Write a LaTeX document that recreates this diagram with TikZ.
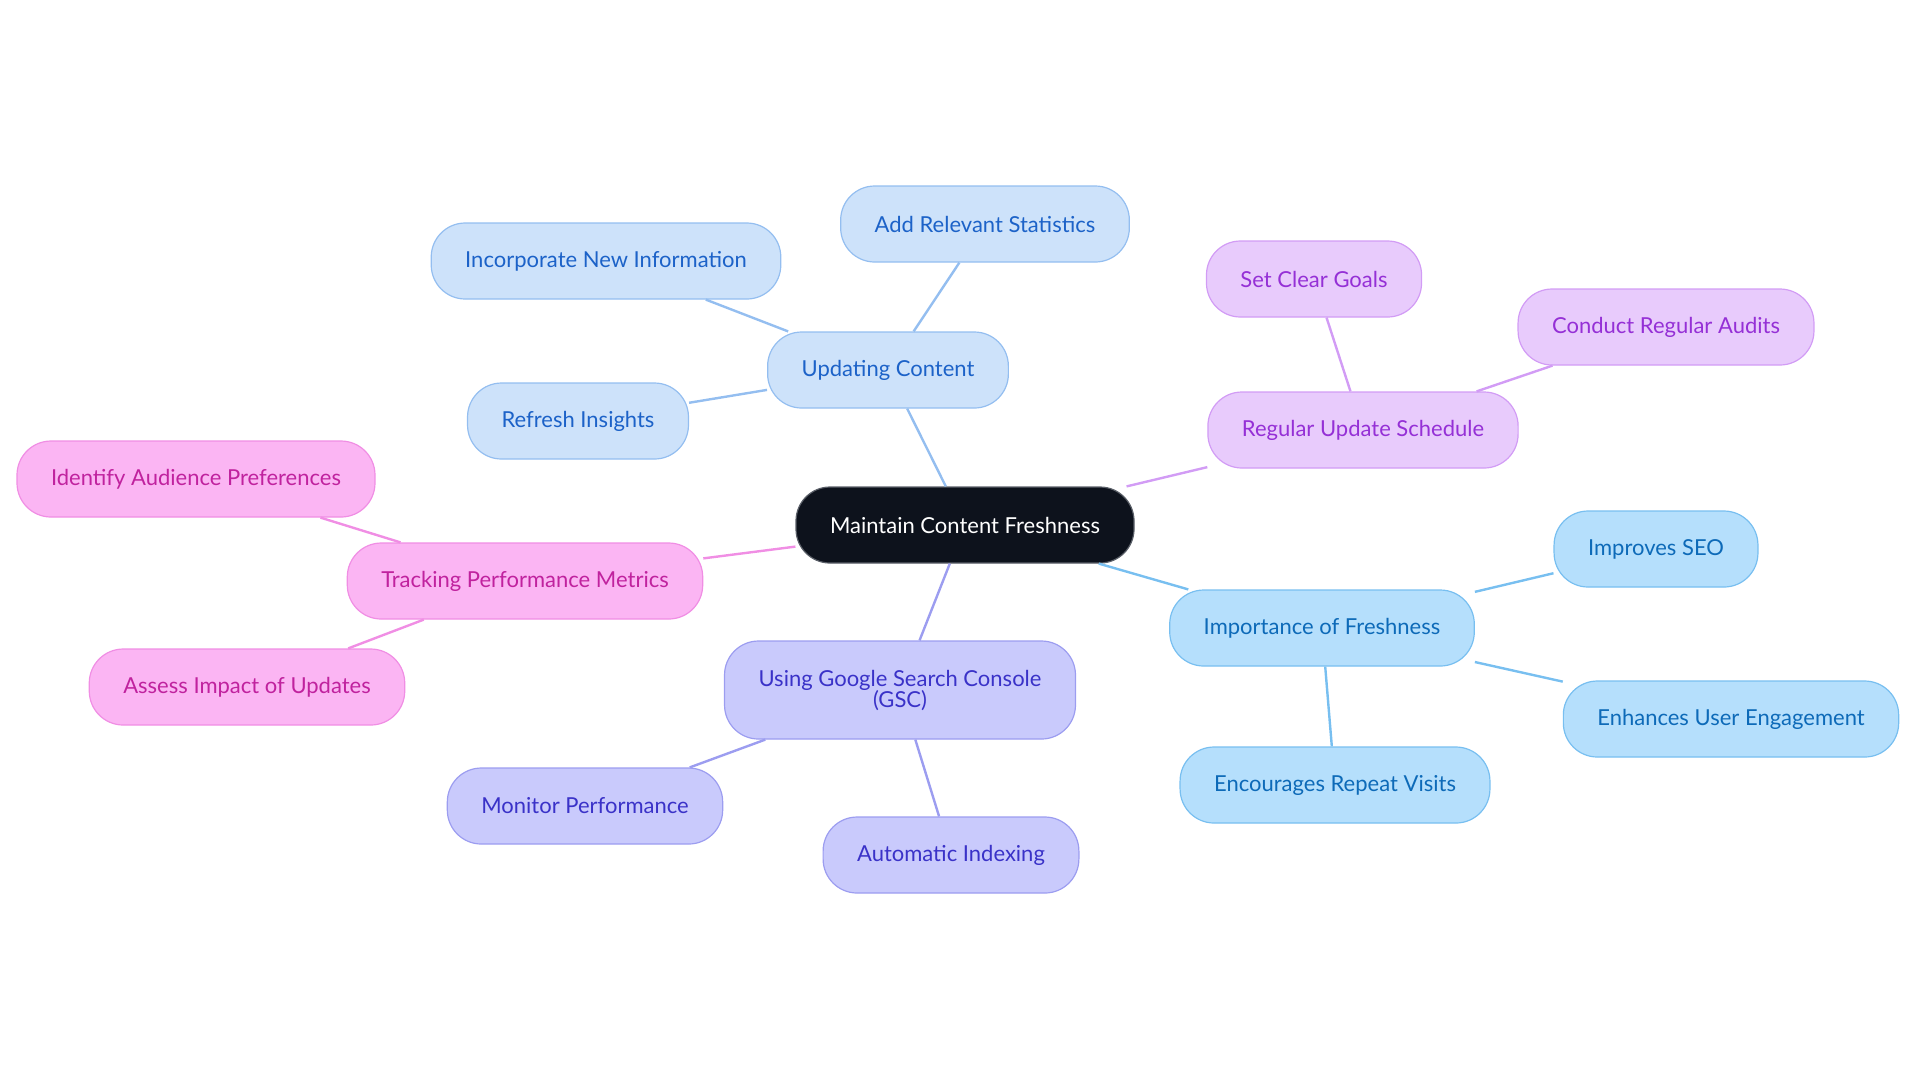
\documentclass[tikz,border=0pt]{standalone}
\usepackage{fontspec}
\setmainfont{Lato}
\usepackage{xcolor}
\definecolor{rootfill}{HTML}{0D121C}
\definecolor{rootline}{HTML}{5A5F68}
\definecolor{updfill}{HTML}{CDE2FA}
\definecolor{updline}{HTML}{94BEF0}
\definecolor{updtext}{HTML}{1C62C8}
\definecolor{schfill}{HTML}{E8CBFC}
\definecolor{schline}{HTML}{D29CF5}
\definecolor{schtext}{HTML}{9530D6}
\definecolor{impfill}{HTML}{B5DFFC}
\definecolor{impline}{HTML}{78BFF0}
\definecolor{imptext}{HTML}{0D6AB8}
\definecolor{trkfill}{HTML}{FBB5F3}
\definecolor{trkline}{HTML}{F08EE4}
\definecolor{trktext}{HTML}{C0229E}
\definecolor{gscfill}{HTML}{C9CAFC}
\definecolor{gscline}{HTML}{9C9DF0}
\definecolor{gsctext}{HTML}{3A32C8}

\begin{document}
\begin{tikzpicture}[x = 0.5pt, y = -0.5pt,
        pill/.style = {draw, rectangle, rounded corners = 17pt, minimum height = 38pt, inner xsep = 17pt, line width = 0.6pt, font = \fontsize{11}{12.5}\selectfont, align = center},
        rootbox/.style = {pill, fill = rootfill, draw = rootline, text = white},
        updbox/.style = {pill, fill = updfill, draw = updline, text = updtext},
        schbox/.style = {pill, fill = schfill, draw = schline, text = schtext},
        impbox/.style = {pill, fill = impfill, draw = impline, text = imptext},
        trkbox/.style = {pill, fill = trkfill, draw = trkline, text = trktext},
        gscbox/.style = {pill, fill = gscfill, draw = gscline, text = gsctext},
        link/.style = {line width = 1.2pt}]

        \useasboundingbox (0, 0) rectangle (1920, 1083);

        % Root
        \node [rootbox] (root) at (965, 525) {Maintain Content Freshness};

        % Updating Content
        \node [updbox] (upd) at (888, 370) {Updating Content};
        \node [updbox] (updstats) at (985, 224) {Add Relevant Statistics};
        \node [updbox] (updinfo) at (606, 261) {Incorporate New Information};
        \node [updbox] (updrefresh) at (578, 421) {Refresh Insights};

        % Regular Update Schedule
        \node [schbox] (sch) at (1363, 430) {Regular Update Schedule};
        \node [schbox] (schgoals) at (1314, 279) {Set Clear Goals};
        \node [schbox] (schaudits) at (1666, 327) {Conduct Regular Audits};

        % Importance of Freshness
        \node [impbox] (imp) at (1322, 628) {Importance of Freshness};
        \node [impbox] (impseo) at (1656, 549) {Improves SEO};
        \node [impbox] (impuser) at (1731, 719) {Enhances User Engagement};
        \node [impbox] (impvisits) at (1335, 785) {Encourages Repeat Visits};

        % Tracking Performance Metrics
        \node [trkbox] (trk) at (525, 581) {Tracking Performance Metrics};
        \node [trkbox] (trkaud) at (196, 479) {Identify Audience Preferences};
        \node [trkbox] (trkimpact) at (247, 687) {Assess Impact of Updates};

        % Using Google Search Console
        \node [gscbox, minimum height = 49pt] (gsc) at (900, 690) {Using Google Search Console\\[-2pt](GSC)};
        \node [gscbox] (gscmon) at (585, 806) {Monitor Performance};
        \node [gscbox] (gscidx) at (951, 855) {Automatic Indexing};

        % Links
        \draw [link, updline] (root) -- (upd);
        \draw [link, updline] (upd) -- (updstats);
        \draw [link, updline] (upd) -- (updinfo);
        \draw [link, updline] (upd) -- (updrefresh);
        \draw [link, schline] (root) -- (sch);
        \draw [link, schline] (sch) -- (schgoals);
        \draw [link, schline] (sch) -- (schaudits);
        \draw [link, impline] (root) -- (imp);
        \draw [link, impline] (imp) -- (impseo);
        \draw [link, impline] (imp) -- (impuser);
        \draw [link, impline] (imp) -- (impvisits);
        \draw [link, trkline] (root) -- (trk);
        \draw [link, trkline] (trk) -- (trkaud);
        \draw [link, trkline] (trk) -- (trkimpact);
        \draw [link, gscline] (root) -- (gsc);
        \draw [link, gscline] (gsc) -- (gscmon);
        \draw [link, gscline] (gsc) -- (gscidx);

\end{tikzpicture}
\end{document}
